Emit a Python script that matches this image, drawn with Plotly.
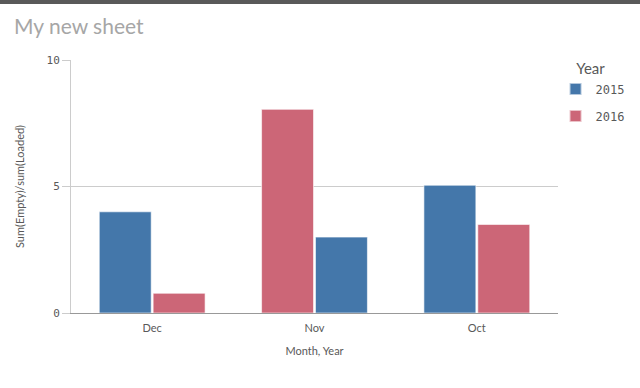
import plotly.graph_objects as go

months = ["Dec", "Nov", "Oct"]
years = ["2015", "2016"]
values_2015 = [4.0, 3.0, 5.05]
values_2016 = [0.78, 8.05, 3.5]
colors = {"2015": "#4477aa", "2016": "#cc6677"}
y_ticks = [0, 5, 10]

series = {"2015": values_2015, "2016": values_2016}

# Within each month, bars are ordered by value (descending)
bar_w = 0.32
gap = 0.012
slot_offsets = [-bar_w - gap / 2, gap / 2]
offsets = {y: [] for y in years}
for i, m in enumerate(months):
    order = sorted(years, key=lambda yr: -series[yr][i])
    for slot, yr in enumerate(order):
        offsets[yr].append(slot_offsets[slot])

fig = go.Figure()
for yr in years:
    fig.add_trace(go.Bar(
        x=months, y=series[yr], name=yr, legendgroup=yr,
        offset=offsets[yr], width=[bar_w] * len(months),
        marker=dict(color=colors[yr], line=dict(color="rgba(255,255,255,0.6)", width=1)),
    ))

grey = "#595959"
fig.update_layout(
    width=640, height=388,
    margin=dict(l=71, r=82, t=60, b=75, autoexpand=False),
    paper_bgcolor="white", plot_bgcolor="white",
    barmode="overlay",
    title=dict(text="My new sheet", x=14 / 640, xref="container", xanchor="left",
               y=1 - 27 / 388, yref="container", yanchor="middle", pad=dict(l=0, t=0, b=0, r=0),
               font=dict(family="Lato, Open Sans, sans-serif", size=21, color="#a6a6a6")),
    showlegend=True,
    legend=dict(x=0.995, xanchor="left", y=1.02, yanchor="top",
                title=dict(text="\u00a0\u00a0\u00a0\u00a0\u00a0Year", font=dict(family="Lato, sans-serif", size=15, color=grey)),
                font=dict(family="DejaVu Sans Mono, monospace", size=12, color=grey),
                itemsizing="constant", itemwidth=30, tracegroupgap=8, bgcolor="rgba(0,0,0,0)"),
    shapes=[dict(type="rect", xref="paper", yref="paper", x0=-71 / 487, x1=1 + 82 / 487,
                 y0=1 + 56 / 253, y1=1 + 60 / 253, fillcolor="#595959", line=dict(width=0))],
)
fig.update_xaxes(
    type="category", categoryorder="array", categoryarray=months,
    showline=True, linecolor="#999999", linewidth=1, ticks="",
    ticklabelstandoff=5,
    tickfont=dict(family="Lato, sans-serif", size=11, color=grey),
    title=dict(text="Month, Year", font=dict(family="Lato, sans-serif", size=11, color=grey), standoff=14),
    showgrid=False, zeroline=False,
)
fig.update_yaxes(
    range=[0, 10], tickvals=y_ticks, ticktext=[str(v) for v in y_ticks],
    showgrid=True, gridcolor="#cccccc", gridwidth=1,
    showline=True, linecolor="#cccccc", linewidth=1,
    ticks="outside", ticklen=8, tickcolor="#cccccc",
    tickfont=dict(family="DejaVu Sans Mono, monospace", size=11, color=grey),
    title=dict(text="Sum(Empty)/sum(Loaded)", font=dict(family="Lato, sans-serif", size=11, color=grey), standoff=19),
    zeroline=False,
)
fig.write_html("out.html", config={"displayModeBar": False},
               post_script="document.body.style.margin='0';")
